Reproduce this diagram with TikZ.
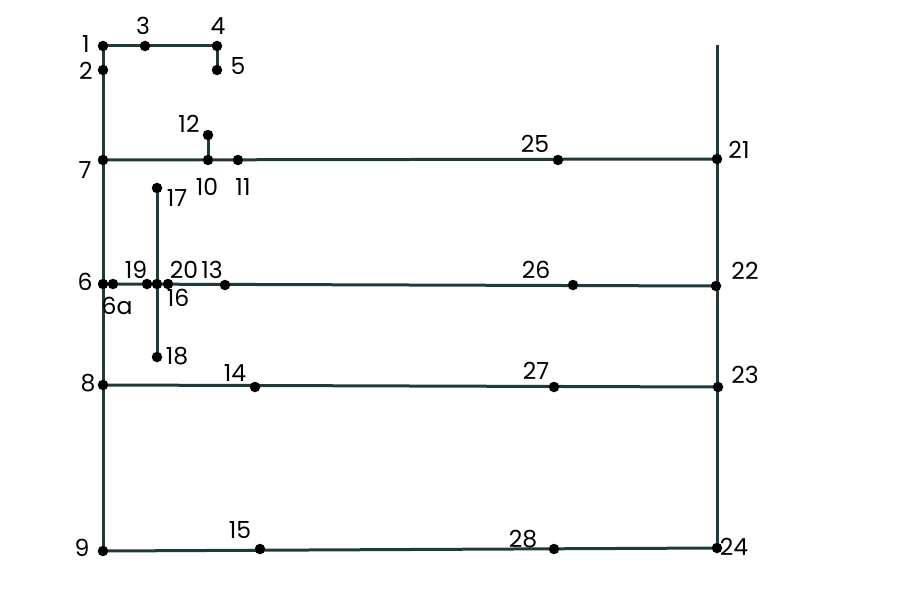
\documentclass[tikz,border=0pt]{standalone}
\usepackage{fontspec}
\setmainfont{Poppins}
\usetikzlibrary{backgrounds}
\definecolor{wire}{HTML}{1E3B3B}
\tikzset{
  pin/.style={circle,fill=black,inner sep=0pt,minimum size=10.5pt},
  num/.style={inner sep=0pt,font=\fontsize{23.5}{25}\selectfont},
  cable/.style={draw=wire,line width=3pt}
}

\begin{document}
\begin{tikzpicture}[x=1pt,y=-1pt]
          \useasboundingbox (0,0) rectangle (899,599);

          % dots
          \node[pin] (p1) at (103,46) {};
          \node[pin] (p2) at (103,70) {};
          \node[pin] (p3) at (145,46) {};
          \node[pin] (p4) at (217,46) {};
          \node[pin] (p5) at (217,70) {};
          \node[pin] (p7) at (103,160) {};
          \node[pin] (p10) at (208,160) {};
          \node[pin] (p11) at (238,160) {};
          \node[pin] (p12) at (208,135) {};
          \node[pin] (p25) at (558,160) {};
          \node[pin] (p21) at (717,159) {};
          \node[pin] (p17) at (157,188) {};
          \node[pin] (p18) at (157,357) {};
          \node[pin] (p6) at (103,284) {};
          \node[pin] (p6a) at (113,284) {};
          \node[pin] (p19) at (147,284) {};
          \node[pin] (p16) at (157,284) {};
          \node[pin] (p20) at (168,284) {};
          \node[pin] (p13) at (225,285) {};
          \node[pin] (p26) at (573,285) {};
          \node[pin] (p22) at (716,286) {};
          \node[pin] (p8) at (103,385) {};
          \node[pin] (p14) at (255,387) {};
          \node[pin] (p27) at (554,387) {};
          \node[pin] (p23) at (718,387) {};
          \node[pin] (p9) at (103,551) {};
          \node[pin] (p15) at (260,549) {};
          \node[pin] (p28) at (554,549) {};
          \node[pin] (p24) at (717,548) {};
          \coordinate (top) at (717,45);

          % numbers
          \node[num] (l1) at (86,44) {1};
          \node[num] (l2) at (86,71) {2};
          \node[num] (l3) at (143,26) {3};
          \node[num] (l4) at (218,26) {4};
          \node[num] (l5) at (238,66) {5};
          \node[num] (l7) at (85,170) {7};
          \node[num] (l12) at (189,124) {12};
          \node[num] (l10) at (207,187) {10};
          \node[num] (l11) at (243,187) {11};
          \node[num] (l25) at (535,144) {25};
          \node[num] (l21) at (739,150) {21};
          \node[num] (l17) at (177,198) {17};
          \node[num] (l6) at (85,282) {6};
          \node[num] (l6a) at (117,306) {6a};
          \node[num] (l19) at (136,270) {19};
          \node[num] (l20) at (184,270) {20};
          \node[num] (l13) at (212,270) {13};
          \node[num] (l16) at (178,298) {16};
          \node[num] (l26) at (536,270) {26};
          \node[num] (l22) at (745,271) {22};
          \node[num] (l18) at (177,356) {18};
          \node[num] (l8) at (88,383) {8};
          \node[num] (l14) at (235,373) {14};
          \node[num] (l27) at (536,371) {27};
          \node[num] (l23) at (745,375) {23};
          \node[num] (l9) at (82,548) {9};
          \node[num] (l15) at (240,530) {15};
          \node[num] (l28) at (523,539) {28};
          \node[num] (l24) at (734,547) {24};

          % wires
          \begin{pgfonlayer}{background}
          \draw[cable] (p1.center) -- (p4.center) -- (p5.center);
          \draw[cable] (p1.center) -- (p9.center);
          \draw[cable] (top) -- (p24.center);
          \draw[cable] (p12.center) -- (p10.center);
          \draw[cable] (p7.center) -- (p21.center);
          \draw[cable] (p17.center) -- (p18.center);
          \draw[cable] (p6.center) -- (p22.center);
          \draw[cable] (p8.center) -- (p23.center);
          \draw[cable] (p9.center) -- (p24.center);
          \end{pgfonlayer}
         \end{tikzpicture}
\end{document}
